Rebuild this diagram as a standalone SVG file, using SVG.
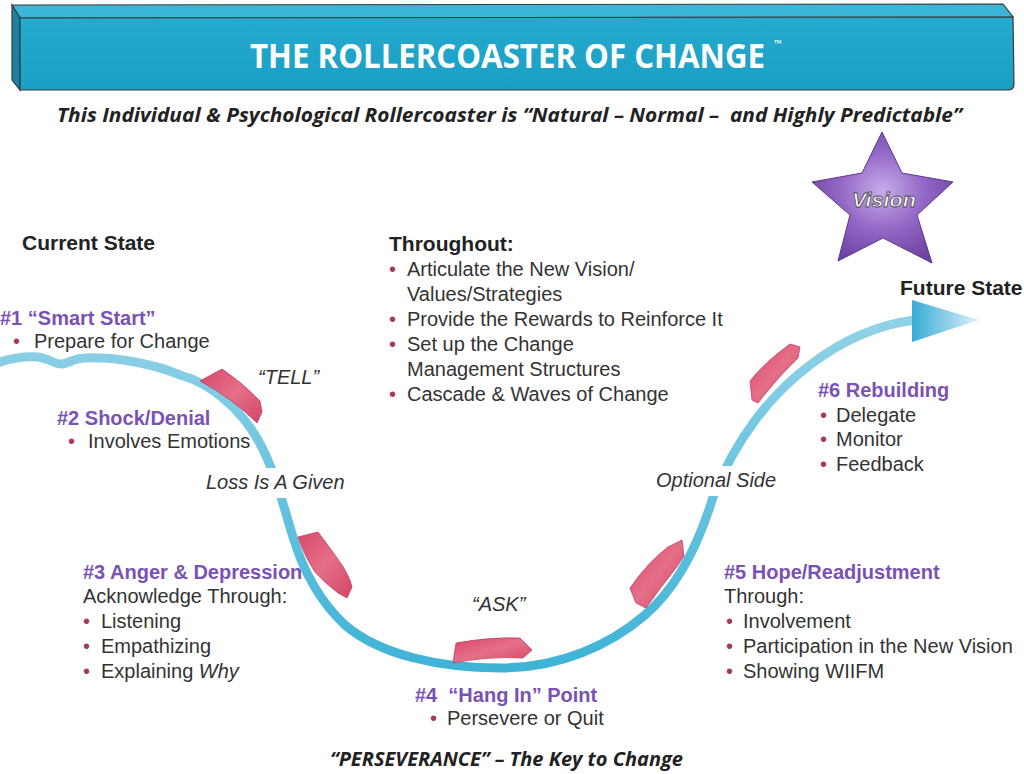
<svg xmlns="http://www.w3.org/2000/svg" width="1024" height="774" viewBox="0 0 1024 774">
<defs>
<linearGradient id="track" gradientUnits="userSpaceOnUse" x1="0" y1="330" x2="0" y2="672">
<stop offset="0" stop-color="#8fd1e7"/>
<stop offset="1" stop-color="#3db3d6"/>
</linearGradient>
<linearGradient id="arrowG" x1="0" y1="0" x2="1" y2="0">
<stop offset="0" stop-color="#35acd6"/>
<stop offset="1" stop-color="#dff1f8"/>
</linearGradient>
<linearGradient id="blk" x1="0" y1="0" x2="1" y2="1">
<stop offset="0" stop-color="#d8486a"/>
<stop offset="0.5" stop-color="#e56f89"/>
<stop offset="1" stop-color="#d34666"/>
</linearGradient>
<radialGradient id="starG" cx="0.5" cy="0.45" r="0.6">
<stop offset="0" stop-color="#c8acea"/>
<stop offset="0.5" stop-color="#9367c6"/>
<stop offset="1" stop-color="#6b3f9c"/>
</radialGradient>
<linearGradient id="front" x1="0" y1="0" x2="0" y2="1">
<stop offset="0" stop-color="#25aad0"/>
<stop offset="1" stop-color="#1b9ec4"/>
</linearGradient>
<style>
.t{font-family:"Liberation Sans",Arial,sans-serif;font-size:20px;fill:#333}
.h{font-family:"Liberation Sans",Arial,sans-serif;font-size:20px;font-weight:bold;fill:#7a52b3}
.k{font-family:"Liberation Sans",Arial,sans-serif;font-size:21px;font-weight:bold;fill:#222}
.i{font-family:"Liberation Sans",Arial,sans-serif;font-size:20px;font-style:italic;fill:#333}
.b{font-family:"Liberation Sans",Arial,sans-serif;font-size:20px;fill:#a8385a}
.blk{fill:url(#blk);stroke:#c23d5e;stroke-width:0.8}
</style>
</defs>
<rect width="1024" height="774" fill="#fff"/>

<g id="banner">
<polygon points="12,5 1003,4 1013,17 20,18" fill="#3bb6d8" stroke="#3a3a3a" stroke-width="1.2"/>
<polygon points="12,5 20,18 20,90 12,80" fill="#1583a6" stroke="#3a3a3a" stroke-width="1.2"/>
<path d="M20,18 L1013,17 L1014,84 Q1014,90 1008,90 L20,90 Z" fill="url(#front)" stroke="#3a3a3a" stroke-width="1.2"/>
<text x="250" y="68" textLength="515" lengthAdjust="spacingAndGlyphs" style="font-family:'Open Sans','Liberation Sans',sans-serif;font-weight:bold;font-size:34px;fill:#fff">THE ROLLERCOASTER OF CHANGE</text>
<text x="774" y="47" style="font-family:'Open Sans','Liberation Sans',sans-serif;font-weight:bold;font-size:10px;fill:#fff">™</text>
</g>

<text id="subtitle" x="57" y="122" textLength="905" lengthAdjust="spacingAndGlyphs" style="font-family:'Open Sans','Liberation Sans',sans-serif;font-weight:bold;font-style:italic;font-size:19px;fill:#222">This Individual &amp; Psychological Rollercoaster is “Natural – Normal – &#160;and Highly Predictable”</text>

<g id="connectors">
<path id="track-path" d="M0,362 C10,359 25,356 38,357 C48,358 54,364 61,364 C68,364 74,358 85,358 C110,357 150,362 180,375 C210,383 240,408 258,440 C275,470 283,505 293,537 C303,570 318,600 345,625 C380,655 440,668 500,668 C560,668 610,645 645,615 C680,585 700,540 713,497 C735,440 770,395 810,365 C840,342 875,325 915,320" fill="none" stroke="url(#track)" stroke-width="9" stroke-linecap="round"/>
<polygon points="912,300 912,342 979,320" fill="url(#arrowG)"/>
</g>

<g id="blocks">
<path class="blk" d="M200,381 L222,369 Q243,383 260,401 L262,412 L257,423 Q232,398 200,381 Z"/>
<path class="blk" d="M298,537 L318,532 Q330,548 342,565 Q350,578 352,587 L347,598 L338,593 Q325,583 315,572 Q305,557 298,537 Z"/>
<path class="blk" d="M456,643 Q490,637 520,638 L532,650 L523,658 Q488,656 453,663 Z"/>
<path class="blk" d="M630,588 Q648,562 668,547 L682,540 L684,556 L676,568 Q660,588 646,608 L636,603 Z"/>
<path class="blk" d="M750,381 Q765,362 790,344 L800,347 L798,358 Q778,377 758,403 L752,400 Z"/>
</g>

<g id="vision">
<polygon points="882,132 902,173 953,182 917,215 932,263 883,238 838,261 850,215 812,182 862,173" fill="url(#starG)" stroke="#5e3690" stroke-width="1"/>
<text x="884" y="207" text-anchor="middle" textLength="64" lengthAdjust="spacingAndGlyphs" style="font-family:'Liberation Sans',Arial,sans-serif;font-weight:bold;font-style:italic;font-size:21px;fill:#fff;stroke:#4a4a4a;stroke-width:0.8">Vision</text>
</g>

<g id="current-state"><text class="k" x="22" y="250">Current State</text></g>
<g id="future-state"><text class="k" x="900" y="295">Future State</text></g>

<g id="stage1">
<text class="h" x="0" y="325">#1 “Smart Start”</text>
<text class="b" x="13" y="348">•</text><text class="t" x="34" y="348">Prepare for Change</text>
</g>

<g id="tell"><text class="i" x="258" y="384">“TELL”</text></g>

<g id="stage2">
<text class="h" x="57" y="425">#2 Shock/Denial</text>
<text class="b" x="68" y="448">•</text><text class="t" x="88" y="448">Involves Emotions</text>
</g>

<g id="loss">
<rect x="204" y="468" width="146" height="30" fill="#fff"/>
<text class="i" x="206" y="489">Loss Is A Given</text>
</g>

<g id="stage3">
<text class="h" x="83" y="579">#3 Anger &amp; Depression</text>
<text class="t" x="83" y="603">Acknowledge Through:</text>
<text class="b" x="83" y="628">•</text><text class="t" x="101" y="628">Listening</text>
<text class="b" x="83" y="653">•</text><text class="t" x="101" y="653">Empathizing</text>
<text class="b" x="83" y="678">•</text><text class="t" x="101" y="678">Explaining <tspan font-style="italic">Why</tspan></text>
</g>

<g id="ask"><text class="i" x="472" y="611">“ASK”</text></g>

<g id="stage4">
<text class="h" x="415" y="702" xml:space="preserve">#4  “Hang In” Point</text>
<text class="b" x="430" y="725">•</text><text class="t" x="447" y="725">Persevere or Quit</text>
</g>

<g id="perseverance"><text x="330" y="766" textLength="353" lengthAdjust="spacingAndGlyphs" style="font-family:'Open Sans','Liberation Sans',sans-serif;font-weight:bold;font-style:italic;font-size:19px;fill:#222">“PERSEVERANCE” – The Key to Change</text></g>

<g id="throughout">
<text class="k" x="389" y="251">Throughout:</text>
<text class="b" x="389" y="276">•</text><text class="t" x="407" y="276">Articulate the New Vision/</text>
<text class="t" x="407" y="301">Values/Strategies</text>
<text class="b" x="389" y="326">•</text><text class="t" x="407" y="326">Provide the Rewards to Reinforce It</text>
<text class="b" x="389" y="351">•</text><text class="t" x="407" y="351">Set up the Change</text>
<text class="t" x="407" y="376">Management Structures</text>
<text class="b" x="389" y="401">•</text><text class="t" x="407" y="401">Cascade &amp; Waves of Change</text>
</g>

<g id="optional">
<rect x="654" y="466" width="124" height="30" fill="#fff"/>
<text class="i" x="656" y="487">Optional Side</text>
</g>

<g id="stage5">
<text class="h" x="724" y="579">#5 Hope/Readjustment</text>
<text class="t" x="724" y="603">Through:</text>
<text class="b" x="726" y="628">•</text><text class="t" x="743" y="628">Involvement</text>
<text class="b" x="726" y="653">•</text><text class="t" x="743" y="653">Participation in the New Vision</text>
<text class="b" x="726" y="678">•</text><text class="t" x="743" y="678">Showing WIIFM</text>
</g>

<g id="stage6">
<text class="h" x="818" y="397">#6 Rebuilding</text>
<text class="b" x="820" y="422">•</text><text class="t" x="836" y="422">Delegate</text>
<text class="b" x="820" y="446">•</text><text class="t" x="836" y="446">Monitor</text>
<text class="b" x="820" y="471">•</text><text class="t" x="836" y="471">Feedback</text>
</g>
</svg>
